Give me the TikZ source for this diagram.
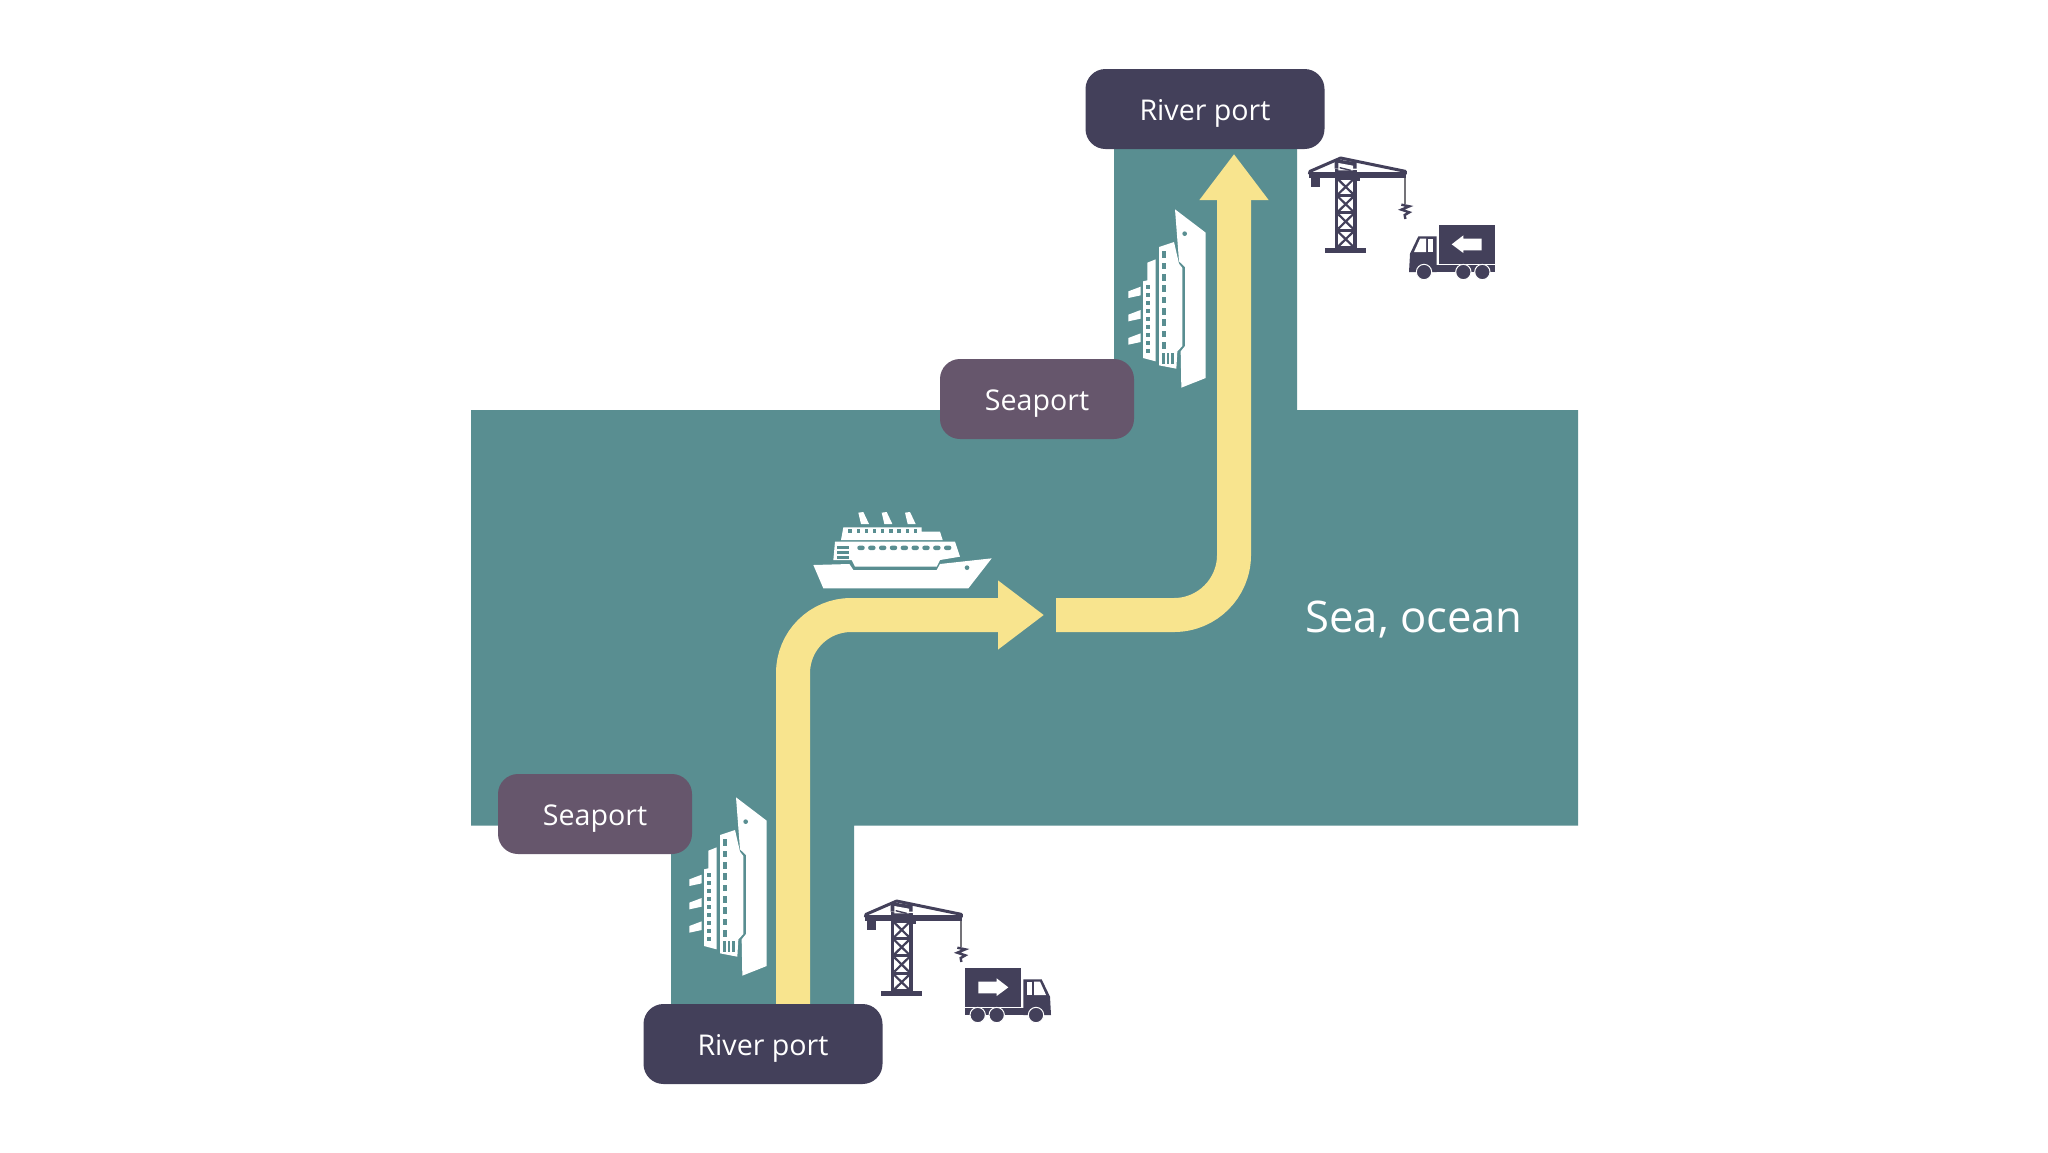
\documentclass[tikz,border=0pt]{standalone}
\usepackage{fontspec}
\setmainfont{Open Sans}
\usetikzlibrary{arrows.meta}
\definecolor{seacol}{HTML}{598E91}
\definecolor{riverdark}{HTML}{43405A}
\definecolor{seaportcol}{HTML}{66566C}
\definecolor{flowcol}{HTML}{F8E48E}
\tikzset{
  water/.style={fill=seacol,draw=none},
  portbox/.style={rounded corners=10pt,minimum height=40pt,inner sep=0pt,outer sep=0pt,text=white,text height=11.5pt,text depth=0pt,font=\fontsize{14.3}{16}\selectfont},
  riverbox/.style={portbox,fill=riverdark,minimum width=119.5pt},
  seabox/.style={portbox,fill=seaportcol,minimum width=97pt},
  flow/.style={draw=flowcol,line width=17pt,-{Triangle[length=23pt,width=33pt,color=flowcol]}},
  iconwhite/.style={fill=white,draw=none},
  icondark/.style={fill=riverdark,draw=none},
  hole/.style={fill=seacol,draw=none},
}
\newcommand{\buildingicon}{%
  \path[iconwhite] (168,52)--(260,122)--(260,558)--(187,587)--(185,478)--(198,462)--(198,225)--(180,208)--cycle;
  \path[iconwhite] (120,165)--(165,150)--(180,215)--(190,228)--(190,462)--(175,478)--(172,530)--(120,520)--cycle;
  \path[iconwhite] (85,212)--(110,202)--(110,508)--(72,498)--(72,268)--(85,265)--cycle;
  \foreach \d in {0,70,140}{
    \path[iconwhite] (28,298+\d)--(65,284+\d)--(65,310+\d)--(28,318+\d)--cycle;
  }
  \foreach \i in {0,...,8}{
    \path[hole] (130,{178+\i*34}) rectangle (142,{198+\i*34});
  }
  \foreach \i in {0,...,8}{
    \path[hole] (82,{280+\i*24}) rectangle (92,{290+\i*24});
  }
  \foreach \i in {0,1,2}{
    \path[hole] ({130+\i*13},482) rectangle ({138+\i*13},516);
  }
  \path[hole] (197,125) circle (7);
}
\newcommand{\craneicon}{%
  \path[icondark] (92,332) rectangle (217,348);
  \path[icondark] (122,90) rectangle (188,334);
  \foreach \y in {128,180,232,285}{
    \path[fill=white] (133,\y) rectangle (177,\y+43);
    \draw[riverdark,line width=1.1pt] (133,\y)--(177,\y+43) (177,\y)--(133,\y+43);
  }
  \path[fill=white] (52,92)--(140,66)--(325,106)--cycle;
  \draw[riverdark,line width=1.5pt,line join=round] (46,112)--(48,103)--(140,63)--(334,103)--(334,112);
  \path[icondark] (44,106) rectangle (336,122);
  \path[icondark] (122,66)--(188,76)--(188,95)--(122,95)--cycle;
  \path[fill=white] (133,78)--(177,86)--(177,100)--(133,100)--cycle;
  \draw[riverdark,line width=.7pt] (137,92)--(170,100);
  \path[icondark] (52,122) rectangle (78,150);
  \path[icondark] (188,122) rectangle (198,131);
  \draw[gray!80!riverdark,line width=.8pt] (333,122)--(333,200);
  \draw[riverdark,line width=1.2pt] (322,203)--(346,208)--(322,218)--(346,226)--(332,234)--(334,246);
}
\newcommand{\truckicon}{%
  \path[icondark] (345,265) rectangle (512,380);
  \path[iconwhite] (385,305)--(440,305)--(440,295)--(475,322)--(440,348)--(440,340)--(385,340)--cycle;
  \path[icondark] (345,385) rectangle (600,405);
  \path[icondark] (520,298)--(575,298)--(600,350)--(603,405)--(520,405)--cycle;
  \path[iconwhite] (530,305) rectangle (545,345);
  \path[iconwhite] (552,305)--(570,305)--(588,345)--(552,345)--cycle;
  \foreach \x in {383,440,558}{
    \path[fill=riverdark,draw=white,line width=.5pt] (\x,405) circle (23);
  }
}
\begin{document}
\begin{tikzpicture}[x=0.5pt,y=-0.5pt]
\path[use as bounding box,fill=white] (0,0) rectangle (2048,1152);
% water
\path[water] (471,410)--(1114,410)--(1114,149)--(1297,149)--(1297,410)--(1578,410)--(1578,825.5)--(854,825.5)--(854,1004)--(671,1004)--(671,825.5)--(471,825.5)--cycle;
% ship
\begin{scope}[shift={(780,490)},scale=1/3]
  \path[iconwhite] (100,225)--(208,222)--(220,240)--(470,240)--(480,222)--(635,205)--(565,295)--(130,295)--cycle;
  \path[iconwhite] (165,155)--(525,155)--(540,200)--(480,210)--(470,230)--(225,230)--(215,210)--(160,210)--cycle;
  \path[iconwhite] (190,112)--(425,112)--(425,125)--(480,125)--(488,150)--(183,150)--cycle;
  \foreach \d in {0,70,140}{
    \path[iconwhite] (235+\d,68)--(250+\d,66)--(267+\d,102)--(243+\d,102)--cycle;
  }
  \foreach \i in {0,...,8}{
    \path[hole,rounded corners=1pt] ({232+\i*32.5},167) rectangle ({254+\i*32.5},180);
  }
  \foreach \y in {168,183,197}{
    \path[hole] (172,\y) rectangle (208,\y+9);
  }
  \foreach \i in {0,...,8}{
    \path[hole] ({205+\i*24.5},118) rectangle ({215+\i*24.5},128);
  }
  \path[hole] (561,233) circle (7);
\end{scope}
% buildings
\begin{scope}[shift={(680,780)},scale=1/3]\buildingicon\end{scope}
\begin{scope}[shift={(1119,192)},scale=1/3]\buildingicon\end{scope}
% flows
\coordinate (startA) at (793,1010);
\coordinate (tipA) at (1044,615);
\coordinate (startB) at (1056,615);
\coordinate (tipB) at (1234,154);
\draw[flow,rounded corners=29pt] (startA) |- (tipA);
\draw[flow,rounded corners=30pt] (startB) -| (tipB);
% ports
\node[riverbox] (riverT) at (1205,109) {River port};
\node[riverbox] (riverB) at (763,1044) {River port};
\node[seabox] (seaT) at (1037,399) {Seaport};
\node[seabox] (seaL) at (595,814) {Seaport};
\node[text=white,font=\fontsize{21.8}{26}\selectfont,inner sep=0pt] (seaLabel) at (1414,620) {Sea, ocean};
% cranes and trucks
\begin{scope}[shift={(850,880)},scale=1/3]\craneicon\end{scope}
\begin{scope}[shift={(1294,137)},scale=1/3]\craneicon\end{scope}
\begin{scope}[shift={(850,880)},scale=1/3]\truckicon\end{scope}
\begin{scope}[shift={(1610,137)},xscale=-1/3,yscale=1/3]\truckicon\end{scope}
\end{tikzpicture}
\end{document}
